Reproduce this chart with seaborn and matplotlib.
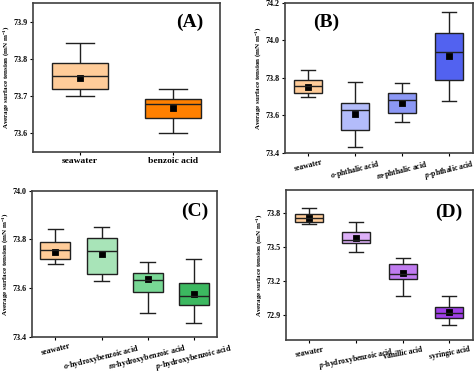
import matplotlib
matplotlib.use("Agg")
import matplotlib.pyplot as plt
import matplotlib.transforms as mtransforms
import pandas as pd
import seaborn as sns

# five-number summaries: whisker low, Q1, median, Q3, whisker high
seawater = [73.70, 73.72, 73.755, 73.789, 73.843]

cats_a = ["seawater", "benzoic acid"]
stats_a = [seawater, [73.60, 73.64, 73.678, 73.692, 73.72]]
means_a = [73.749, 73.669]
colors_a = ["#FFCC99", "#FF8000"]

cats_b = ["seawater", "$\\mathit{o}$-phthalic acid", "$\\mathit{m}$-phthalic acid",
          "$\\mathit{p}$-phthalic acid"]
stats_b = [seawater,
           [73.433, 73.52, 73.628, 73.667, 73.779],
           [73.564, 73.614, 73.681, 73.72, 73.775],
           [73.675, 73.79, 73.936, 74.04, 74.15]]
means_b = [73.75, 73.607, 73.669, 73.917]
colors_b = ["#FFCC99", "#B3BCFA", "#8C98F5", "#5262F0"]

cats_c = ["seawater", "$\\mathit{o}$-hydroxybenzoic acid", "$\\mathit{m}$-hydroxybenzoic acid",
          "$\\mathit{p}$-hydroxybenzoic acid"]
stats_c = [seawater,
           [73.629, 73.656, 73.751, 73.807, 73.849],
           [73.497, 73.582, 73.632, 73.663, 73.707],
           [73.456, 73.529, 73.566, 73.622, 73.719]]
means_c = [73.749, 73.74, 73.638, 73.575]
colors_c = ["#FFCC99", "#A8E4B8", "#78D895", "#3CB860"]

cats_d = ["seawater", "$\\mathit{p}$-hydroxybenzoic acid", "vanillic acid", "syringic acid"]
stats_d = [seawater,
           [73.457, 73.53, 73.562, 73.626, 73.722],
           [73.065, 73.216, 73.257, 73.35, 73.399],
           [72.816, 72.874, 72.922, 72.971, 73.068]]
means_d = [73.75, 73.58, 73.268, 72.925]
colors_d = ["#FFCC99", "#DDB0F8", "#C07CF0", "#A040E8"]

plt.rcParams["font.family"] = ["Liberation Serif", "DejaVu Serif"]
plt.rcParams["font.weight"] = "bold"
plt.rcParams["mathtext.fontset"] = "custom"
plt.rcParams["mathtext.rm"] = "Liberation Serif:bold"
plt.rcParams["mathtext.it"] = "Liberation Serif:italic:bold"
plt.rcParams["mathtext.bf"] = "Liberation Serif:bold"


def draw_panel(fig, ax, cats, stats, means, colors, ylim, yticks, label, label_pos,
               width, rot, dx=-5, xfs=5.7):
    df = pd.DataFrame({
        "cat": [c for c, s in zip(cats, stats) for _ in s],
        "val": [v for s in stats for v in s],
    })
    sns.boxplot(data=df, x="cat", y="val", hue="cat", palette=colors, order=cats,
                hue_order=cats, width=width, whis=(0, 100), linecolor="#202020",
                linewidth=1.0, fliersize=0, legend=False, saturation=1, ax=ax)
    sns.pointplot(x=cats, y=means, order=cats, color="black", marker="s",
                  linestyle="none", markersize=2.6, errorbar=None, ax=ax)
    ax.set_ylim(*ylim)
    ax.set_yticks(yticks)
    ax.set_yticklabels([f"{t:.1f}" for t in yticks], fontsize=5.8, fontweight="bold")
    ax.set_xlim(-0.5, len(cats) - 0.5)
    ax.set_xticks(range(len(cats)))
    if rot:
        ax.set_xticklabels(cats, fontsize=xfs, fontweight="bold", rotation=rot, ha="center")
        shift = mtransforms.ScaledTranslation(dx / 100, 1 / 100, fig.dpi_scale_trans)
        for lab in ax.get_xticklabels():
            lab.set_transform(lab.get_transform() + shift)
    else:
        ax.set_xticklabels(cats, fontsize=6.8, fontweight="bold")
    ax.set_xlabel("")
    ax.set_ylabel("Average surface tension (mN m$^{-1}$)", fontsize=5.0, fontweight="bold",
                  labelpad=1.5)
    ax.tick_params(direction="out", length=2.5, width=0.8, pad=1.5)
    for sp in ax.spines.values():
        sp.set_color("#404040")
        sp.set_linewidth(1.2)
    ax.text(label_pos[0], label_pos[1], label, transform=ax.transAxes, fontsize=14,
            fontweight="bold", ha="center", va="center")


fig = plt.figure(figsize=(4.74, 3.73), dpi=100)
ax_a = fig.add_axes([0.070, 0.593, 0.394, 0.399])
ax_b = fig.add_axes([0.601, 0.590, 0.396, 0.402])
ax_c = fig.add_axes([0.068, 0.097, 0.390, 0.392])
ax_d = fig.add_axes([0.603, 0.088, 0.394, 0.403])

draw_panel(fig, ax_a, cats_a, stats_a, means_a, colors_a, (73.55, 73.95),
           [73.6, 73.7, 73.8, 73.9], "(A)", (0.84, 0.87), 0.6, 0)
draw_panel(fig, ax_b, cats_b, stats_b, means_b, colors_b, (73.4, 74.2),
           [73.4, 73.6, 73.8, 74.0, 74.2], "(B)", (0.22, 0.87), 0.6, 14, dx=-9, xfs=5.5)
draw_panel(fig, ax_c, cats_c, stats_c, means_c, colors_c, (73.4, 74.0),
           [73.4, 73.6, 73.8, 74.0], "(C)", (0.88, 0.86), 0.65, 14)
draw_panel(fig, ax_d, cats_d, stats_d, means_d, colors_d, (72.68, 74.0),
           [72.9, 73.2, 73.5, 73.8], "(D)", (0.87, 0.85), 0.6, 11, dx=-6, xfs=5.5)

fig.savefig("out.png", dpi=100, facecolor="white")
